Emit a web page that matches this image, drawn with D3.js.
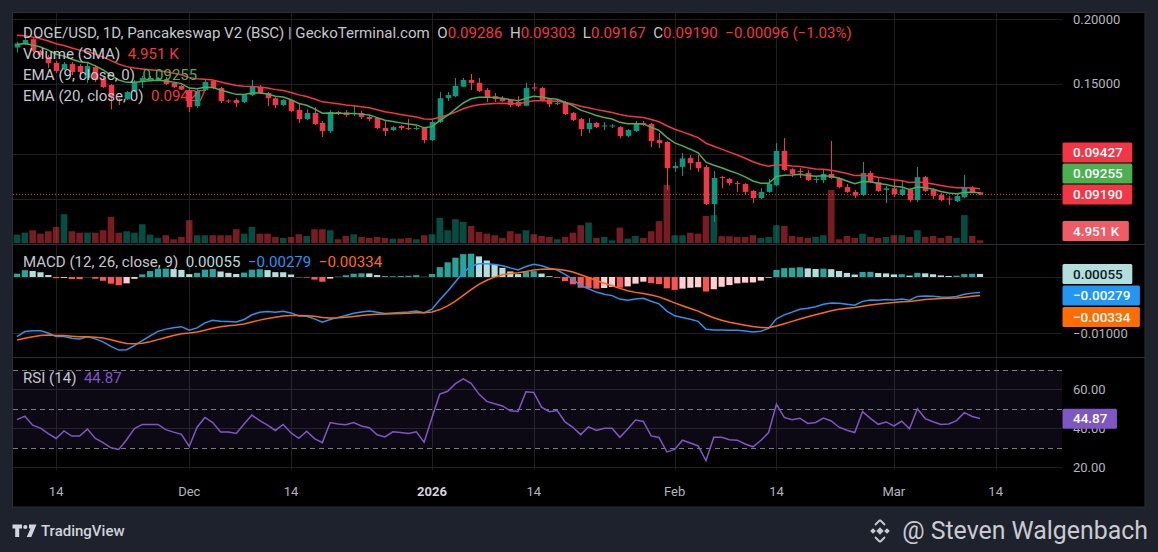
<!DOCTYPE html>
<html><head><meta charset="utf-8">
<script src="https://cdn.jsdelivr.net/npm/d3@7"></script>
<style>
html,body{margin:0;padding:0;background:#1e222d;overflow:hidden;}
svg{display:block;}
</style></head><body>
<svg id="c" width="1158" height="552"></svg>
<script>
// ---------------- DATA ----------------
const firstDay = "2025-11-09";          // first daily candle
const opens = [.1763,.1790,.1829,.1735,.1691,.1646,.1602,.1638,.1624,.1540,
.1616,.1532,.1493,.1399,.1402,.1454,.1514,.1527,.1527,.1532,
.1507,.1487,.1460,.1360,.1460,.1520,.1473,.1394,.1397,.1385,
.1428,.1480,.1441,.1408,.1366,.1397,.1337,.1284,.1319,.1262,
.1218,.1325,.1322,.1313,.1319,.1296,.1290,.1234,.1223,.1245,
.1234,.1231,.1234,.1170,.1268,.1410,.1421,.1482,.1527,.1507,
.1460,.1421,.1408,.1397,.1385,.1362,.1477,.1473,.1402,.1372,
.1385,.1319,.1284,.1228,.1262,.1245,.1245,.1239,.1192,.1218,
.1262,.1256,.1170,.1160,.1033,.1039,.1080,.1062,.1038,.0881,
.0993,.0985,.0967,.0963,.0934,.0905,.0930,.0958,.1115,.1028,
.1020,.1011,.0982,.0980,.1007,.0989,.0950,.0930,.0917,.1011,
.0971,.0938,.0945,.0917,.0941,.0897,.0993,.0938,.0917,.0903,
.0893,.0908,.0948,.09286];
const highs = [.1808,.1838,.1838,.1743,.1704,.1661,.1653,.1653,.1638,.1646,
.1631,.1547,.1500,.1408,.1454,.1527,.1554,.1554,.1547,.1547,
.1514,.1493,.1473,.1466,.1527,.1527,.1480,.1402,.1408,.1434,
.1527,.1493,.1447,.1415,.1402,.1402,.1378,.1341,.1354,.1273,
.1337,.1331,.1337,.1360,.1331,.1307,.1296,.1279,.1245,.1251,
.1284,.1245,.1239,.1279,.1447,.1447,.1540,.1540,.1568,.1540,
.1473,.1441,.1421,.1402,.1421,.1507,.1507,.1480,.1408,.1397,
.1391,.1325,.1290,.1290,.1268,.1268,.1256,.1245,.1228,.1273,
.1273,.1262,.1207,.1165,.1062,.1105,.1095,.1095,.1047,.1020,
.0998,.0989,.0976,.0967,.0938,.0945,.0985,.1154,.1180,.1033,
.1033,.1025,.0993,.1025,.1165,.0993,.0963,.0938,.1062,.1020,
.0993,.0954,.0985,.0976,.0945,.1038,.0998,.0945,.0926,.0913,
.0921,.1002,.0954,.09303];
const lows = [.1725,.1782,.1728,.1689,.1609,.1575,.1596,.1561,.1527,.1507,
.1514,.1473,.1341,.1366,.1397,.1447,.1473,.1520,.1520,.1493,
.1473,.1460,.1325,.1348,.1454,.1466,.1378,.1378,.1354,.1378,
.1421,.1434,.1360,.1348,.1360,.1325,.1262,.1279,.1251,.1185,
.1207,.1307,.1296,.1302,.1284,.1273,.1228,.1191,.1218,.1223,
.1223,.1223,.1154,.1165,.1262,.1391,.1415,.1480,.1460,.1447,
.1385,.1385,.1385,.1354,.1354,.1360,.1454,.1391,.1354,.1366,
.1307,.1273,.1191,.1207,.1234,.1223,.1234,.1180,.1185,.1212,
.1245,.1134,.1129,.0938,.1016,.0998,.1025,.1016,.0877,.0814,
.0945,.0958,.0930,.0921,.0885,.0901,.0926,.0954,.1020,.0993,
.0989,.0976,.0967,.0967,.0985,.0945,.0926,.0905,.0913,.0967,
.0930,.0885,.0909,.0913,.0889,.0889,.0930,.0901,.0893,.0877,
.0889,.0905,.0926,.09167];
const closes = [.1795,.1822,.1735,.1704,.1644,.1589,.1638,.1582,.1582,.1624,
.1527,.1480,.1415,.1394,.1447,.1514,.1540,.1540,.1540,.1500,
.1480,.1463,.1354,.1454,.1514,.1473,.1391,.1391,.1378,.1428,
.1480,.1441,.1408,.1366,.1397,.1331,.1284,.1319,.1256,.1218,
.1325,.1313,.1307,.1319,.1296,.1284,.1234,.1218,.1239,.1234,
.1228,.1234,.1170,.1268,.1408,.1428,.1487,.1527,.1507,.1454,
.1415,.1402,.1391,.1366,.1362,.1473,.1470,.1397,.1372,.1378,
.1313,.1279,.1228,.1262,.1239,.1248,.1248,.1191,.1223,.1260,
.1253,.1165,.1154,.1033,.1043,.1079,.1057,.1033,.0881,.0989,
.0989,.0967,.0963,.0930,.0905,.0930,.0963,.1115,.1025,.1007,
.1016,.0980,.0985,.1007,.0989,.0950,.0930,.0915,.1011,.0971,
.0934,.0945,.0921,.0941,.0897,.0993,.0934,.0914,.0897,.0899,
.0913,.0948,.0929,.09190];
const volumesK = [15.2,18.8,23.2,17.0,21.4,29.3,52.5,21.4,18.8,18.8,
18.8,23.2,47.6,18.8,21.4,18.8,34.2,15.2,9.2,14.1,
6.8,11.0,41.5,14.1,14.1,14.1,14.1,14.1,25.1,17.0,
29.3,17.0,17.0,11.0,9.2,11.0,15.9,12.8,25.1,25.1,
23.2,6.8,12.8,15.9,11.0,9.2,11.0,9.2,7.9,7.9,
9.2,6.8,14.1,15.9,45.8,23.2,43.4,38.4,31.1,20.1,
17.0,14.1,9.2,21.4,17.0,23.2,15.9,12.8,11.0,6.8,
11.0,18.8,32.4,37.1,9.2,11.0,4.9,28.0,7.9,12.8,
9.2,21.4,39.7,105.6,14.1,14.1,18.8,17.0,49.4,50.7,
12.3,12.3,11.0,11.0,14.1,9.2,11.0,32.4,31.1,12.8,
11.0,9.2,11.0,14.1,96.4,6.8,12.8,9.2,17.0,11.0,
9.2,11.0,14.1,14.1,11.0,23.2,11.0,12.8,9.2,12.8,
9.2,50.7,12.8,4.951];
// indicator state on the first visible day
const emaStart = [0.1787, 0.1861];            // EMA9, EMA20
const macdStart = [0.1805, 0.19116, -0.01125]; // EMA12, EMA26, signal
const rsiStart = [0.0028, 0.0035];            // avg gain, avg loss
// values shown in the legends / scale tags
const lastOHLC = ["0.09286","0.09303","0.09167","0.09190"];
const lastChange = "−0.00096 (−1.03%)";
const volLabel = "4.951 K";
const emaLabels = ["0.09255","0.09427"];
const emaValues = [0.09255, 0.09427];
const macdLabels = ["0.00055","−0.00279","−0.00334"];
const macdValues = [0.00055,-0.00279,-0.00334];
const rsiLabel = "44.87"; const rsiValue = 44.87;
const priceTicks = [0.20, 0.15, 0.11, 0.09];
const priceTickLabels = [0.20, 0.15];      // the others sit under the scale tags
const macdTicks = [0, -0.01];
const macdTickLabels = [-0.01];
const rsiTicks = [60, 40, 20];
const rsiLevels = [70, 50, 30];
const timeTicks = [["2025-11-14","14"],["2025-12-01","Dec"],["2025-12-14","14"],["2026-01-01","2026"],
  ["2026-01-14","14"],["2026-02-01","Feb"],["2026-02-14","14"],["2026-03-01","Mar"],["2026-03-14","14"]];

// ---------------- INDICATORS ----------------
function ema(src, period, start){ const a=2/(period+1); let v=start; return src.map((s,i)=>{ if(i>0) v=a*s+(1-a)*v; return v; }); }
const ema9 = ema(closes, 9, emaStart[0]);
const ema20 = ema(closes, 20, emaStart[1]);
const e12 = ema(closes, 12, macdStart[0]);
const e26 = ema(closes, 26, macdStart[1]);
const macd = e12.map((v,i)=>v-e26[i]);
const signal = ema(macd, 9, macdStart[2]);
const hist = macd.map((v,i)=>v-signal[i]);
const rsi = (()=>{ let g=rsiStart[0], l=rsiStart[1]; return closes.map((c,i)=>{ if(i>0){ const ch=c-closes[i-1]; g=(g*13+Math.max(ch,0))/14; l=(l*13+Math.max(-ch,0))/14; } return 100-100/(1+g/l); }); })();

// ---------------- LAYOUT ----------------
const svg = d3.select('#c');
const FONT = 'Roboto, "Noto Sans", "DejaVu Sans", sans-serif';
const PX0 = 13, PX1 = 1062, RX = 1145;
const P = {top:13, bot:244}, M = {top:244.5, bot:357.5}, R = {top:358, bot:470};
const UP = '#089981', DN = '#F23645', GRID = '#1f1f1f', TXT = '#b2b5be';

const day0 = d3.utcParse('%Y-%m-%d')(firstDay);
const dates = closes.map((_,i)=>d3.utcDay.offset(day0, i));
const x = d3.scaleUtc().domain([dates[0], dates[dates.length-1]]).range([17, 980]);
const y = d3.scaleLog().domain([0.2, 0.09]).range([19, 199.3]);
const yv = d3.scaleLinear().domain([0, d3.max(volumesK)]).range([243, 185]);
const ym = d3.scaleLinear().domain([0, -0.01]).range([277, 333]);
const yr = d3.scaleLinear().domain([20, 60]).range([467.3, 389.3]);

svg.append('rect').attr('width',1158).attr('height',552).attr('fill','#1e222d');
svg.append('rect').attr('x',12.5).attr('y',12.5).attr('width',RX-12.5).attr('height',507-12.5)
  .attr('fill','#000').attr('stroke','#2a2e39');

const defs = svg.append('defs');
[['cp',P],['cm',M],['cr',R]].forEach(([id,p])=>{
  defs.append('clipPath').attr('id',id).append('rect').attr('x',PX0).attr('y',p.top).attr('width',PX1-PX0).attr('height',p.bot-p.top);
});

// vertical grid
const parse = d3.utcParse('%Y-%m-%d');
svg.append('g').selectAll('line').data(timeTicks).join('line')
  .attr('x1',d=>Math.round(x(parse(d[0])))+0.5).attr('x2',d=>Math.round(x(parse(d[0])))+0.5)
  .attr('y1',P.top).attr('y2',R.bot).attr('stroke',GRID);
// horizontal grids
function hgrid(vals, sc){ svg.append('g').selectAll('line').data(vals).join('line')
  .attr('x1',PX0).attr('x2',PX1).attr('y1',d=>Math.round(sc(d))+0.5).attr('y2',d=>Math.round(sc(d))+0.5).attr('stroke',GRID); }
hgrid(priceTicks, y); hgrid(macdTicks, ym); hgrid(rsiTicks, yr);

// RSI band
svg.append('rect').attr('x',PX0).attr('width',PX1-PX0).attr('y',yr(rsiLevels[0])).attr('height',yr(rsiLevels[2])-yr(rsiLevels[0]))
  .attr('fill','rgba(126,87,194,0.1)');
svg.append('g').selectAll('line').data(rsiLevels).join('line')
  .attr('x1',PX0).attr('x2',PX1).attr('y1',d=>Math.round(yr(d))+0.5).attr('y2',d=>Math.round(yr(d))+0.5)
  .attr('stroke','#787b86').attr('stroke-dasharray','5,4');

// separators
[M.top, M.bot].forEach(v=>svg.append('line').attr('x1',PX0).attr('x2',RX).attr('y1',v).attr('y2',v).attr('stroke','#2a2e39'));

// price pane
const gp = svg.append('g').attr('clip-path','url(#cp)');
const up = i=>closes[i]>=opens[i];
gp.append('g').selectAll('rect').data(volumesK).join('rect')
  .attr('x',(d,i)=>x(dates[i])-3.3).attr('width',6.6)
  .attr('y',d=>yv(d)).attr('height',d=>yv(0)-yv(d))
  .attr('fill',(d,i)=>up(i)?'rgba(8,153,129,0.5)':'rgba(242,54,69,0.5)');
const cg = gp.append('g');
cg.selectAll('line').data(closes).join('line')
  .attr('x1',(d,i)=>Math.round(x(dates[i]))+0.5).attr('x2',(d,i)=>Math.round(x(dates[i]))+0.5)
  .attr('y1',(d,i)=>y(highs[i])).attr('y2',(d,i)=>y(lows[i]))
  .attr('stroke',(d,i)=>up(i)?UP:DN);
cg.selectAll('rect').data(closes).join('rect')
  .attr('x',(d,i)=>Math.round(x(dates[i]))+0.5-2.8).attr('width',5.6)
  .attr('y',(d,i)=>y(Math.max(opens[i],closes[i])))
  .attr('height',(d,i)=>Math.max(1,y(Math.min(opens[i],closes[i]))-y(Math.max(opens[i],closes[i]))))
  .attr('fill',(d,i)=>up(i)?UP:DN);
const lineP = d3.line().x((d,i)=>x(dates[i])).y(d=>y(d));
gp.append('path').attr('d',lineP(ema20)).attr('fill','none').attr('stroke','#F23645').attr('stroke-width',1.5);
gp.append('path').attr('d',lineP(ema9)).attr('fill','none').attr('stroke','#4CAF50').attr('stroke-width',1.5);
svg.append('line').attr('x1',PX0).attr('x2',PX1).attr('y1',y(closes[closes.length-1])).attr('y2',y(closes[closes.length-1]))
  .attr('stroke','#F23645').attr('stroke-dasharray','1,2');

// MACD pane
const gm = svg.append('g').attr('clip-path','url(#cm)');
gm.append('g').selectAll('rect').data(hist).join('rect')
  .attr('x',(d,i)=>x(dates[i])-3.1).attr('width',6.2)
  .attr('y',d=>Math.min(ym(0),ym(d))).attr('height',d=>Math.abs(ym(d)-ym(0)))
  .attr('fill',(d,i)=>{ const p=i>0?hist[i-1]:d; return d>=0?(d>=p?'#26A69A':'#B2DFDB'):(d<p?'#FF5252':'#FFCDD2'); });
const lineM = d3.line().x((d,i)=>x(dates[i])).y(d=>ym(d));
gm.append('path').attr('d',lineM(macd)).attr('fill','none').attr('stroke','#2196F3').attr('stroke-width',1.5);
gm.append('path').attr('d',lineM(signal)).attr('fill','none').attr('stroke','#FF6D00').attr('stroke-width',1.5);

// RSI pane
const gr = svg.append('g').attr('clip-path','url(#cr)');
gr.append('path').attr('d',d3.line().x((d,i)=>x(dates[i])).y(d=>yr(d))(rsi)).attr('fill','none').attr('stroke','#7E57C2').attr('stroke-width',1.5);

// ---------------- LEGENDS ----------------
function legend(yb, parts, fs){
  const t = svg.append('text').attr('x',23).attr('y',yb).attr('font-family',FONT).attr('font-size',fs).attr('xml:space','preserve');
  parts.forEach(p=>t.append('tspan').attr('fill',p[1]).text(p[0]));
  return t;
}
const LG = '#c4c7ce';
const title = legend(38, [["DOGE/USD, 1D, Pancakeswap V2 (BSC) | GeckoTerminal.com",LG]], 14);
const tw = title.node().getComputedTextLength();
const FS = 14*407/tw;
title.attr('font-size',FS);
title.append('tspan').attr('fill',LG).text('  O'); title.append('tspan').attr('fill',DN).text(lastOHLC[0]);
title.append('tspan').attr('fill',LG).text('  H'); title.append('tspan').attr('fill',DN).text(lastOHLC[1]);
title.append('tspan').attr('fill',LG).text('  L'); title.append('tspan').attr('fill',DN).text(lastOHLC[2]);
title.append('tspan').attr('fill',LG).text('  C'); title.append('tspan').attr('fill',DN).text(lastOHLC[3]);
title.append('tspan').attr('fill',DN).text('  '+lastChange);
legend(59, [["Volume (SMA)  ",LG],[volLabel,DN]], FS);
legend(80, [["EMA (9, close, 0)  ",LG],[emaLabels[0],'#4CAF50']], FS);
legend(101, [["EMA (20, close, 0)  ",LG],[emaLabels[1],'#F23645']], FS);
legend(267, [["MACD (12, 26, close, 9)  ",LG],[macdLabels[0],'#B2DFDB'],["  ",LG],[macdLabels[1],'#2196F3'],["  ",LG],[macdLabels[2],'#FF6D00']], FS);
legend(383, [["RSI (14)  ",LG],[rsiLabel,'#7E57C2']], FS);

// ---------------- AXES ----------------
const fmtP = d3.format('.5f');
function axisLabels(vals, sc, fmt){ svg.append('g').selectAll('text').data(vals).join('text')
  .attr('x',1073).attr('y',d=>sc(d)+4.5).attr('font-family',FONT).attr('font-size',13).attr('fill',TXT)
  .text(d=>fmt(d).replace('-','−')); }
axisLabels(priceTickLabels, y, fmtP);
axisLabels(macdTickLabels, ym, fmtP);
axisLabels(rsiTicks, yr, d3.format('.2f'));
svg.append('g').selectAll('text').data(timeTicks).join('text')
  .attr('x',d=>x(parse(d[0]))).attr('y',495.5).attr('text-anchor','middle')
  .attr('font-family',FONT).attr('font-size',13)
  .attr('font-weight',d=>d[1]==='2026'?700:400).attr('fill',d=>d[1]==='2026'?'#d1d4dc':TXT).text(d=>d[1]);

// ---------------- SCALE TAGS ----------------
function tag(cy, label, bg, fg){
  const g = svg.append('g');
  const r = g.append('rect').attr('x',1062.5).attr('y',cy-10).attr('height',20).attr('rx',1.5).attr('fill',bg);
  const t = g.append('text').attr('x',1073).attr('y',cy+4.6).attr('font-family',FONT).attr('font-size',13.5)
    .attr('font-weight',500).attr('fill',fg).text(label);
  r.attr('width', t.node().getComputedTextLength()+20);
}
let cy = y(closes[closes.length-1]);
tag(cy, lastOHLC[3], DN, '#fff');
cy = Math.min(y(emaValues[0]), cy-21); tag(cy, emaLabels[0], '#4CAF50', '#fff');
cy = Math.min(y(emaValues[1]), cy-21); tag(cy, emaLabels[1], '#F23645', '#fff');
tag(Math.min(yv(volumesK[volumesK.length-1]), P.bot-13), volLabel, '#f05c66', '#fff');
let mc = ym(macdValues[0]); tag(mc, macdLabels[0], '#B2DFDB', '#131722');
mc = Math.max(ym(macdValues[1]), mc+21.5); tag(mc, macdLabels[1], '#2196F3', '#fff');
mc = Math.max(ym(macdValues[2]), mc+21.5); tag(mc, macdLabels[2], '#FF6D00', '#fff');
tag(yr(rsiValue), rsiLabel, '#7E57C2', '#fff');

// ---------------- FOOTER ----------------
const lg = svg.append('g').attr('fill','#d1d4dc');
lg.append('path').attr('d','M12.5 524.5h9.5v4h-2.8v8.5h-4v-8.5h-2.7z');
lg.append('circle').attr('cx',25.3).attr('cy',527).attr('r',2.1);
lg.append('path').attr('d','M29 524.5h7.5l-5.2 12.5h-4.6l3.8-8.5h-1.5z');
svg.append('text').attr('x',41).attr('y',536).attr('font-family',FONT).attr('font-size',15).attr('font-weight',500)
  .attr('fill','#d1d4dc').text('TradingView');
const bi = svg.append('g').attr('fill','none').attr('stroke','#c9cbd1').attr('stroke-width',1.8).attr('transform','translate(880,531)');
bi.append('path').attr('d','M0 -11 L5 -6 M0 -11 L-5 -6 M0 11 L5 6 M0 11 L-5 6');
[[0,0,2.6],[-7,0,2],[7,0,2]].forEach(([dx,dy,s])=>
  bi.append('rect').attr('x',dx-s).attr('y',dy-s).attr('width',2*s).attr('height',2*s).attr('fill','#c9cbd1').attr('stroke','none').attr('transform',`rotate(45 ${dx} ${dy})`));
const credit = svg.append('text').attr('x',1148).attr('y',539).attr('text-anchor','end').attr('font-family',FONT)
  .attr('font-size',22).attr('fill','#c9cbd1').text('@ Steven Walgenbach');
const cw = credit.node().getComputedTextLength();
credit.attr('font-size', 22*246/cw);
</script>
</body></html>
